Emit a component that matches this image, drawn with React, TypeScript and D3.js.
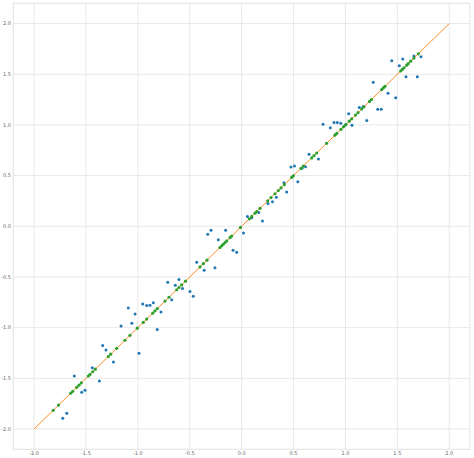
import React from "react";
import * as d3 from "d3";

const W = 474;
const H = 458;

const tickValues = [-2.0, -1.5, -1.0, -0.5, 0.0, 0.5, 1.0, 1.5, 2.0];
const tickLabels = ["-2.0", "-1.5", "-1.0", "-0.5", "0.0", "0.5", "1.0", "1.5", "2.0"];

const lineX = [-2.0, 2.0];
const lineY = [-2.0, 2.0];

const blueX = [
  -1.723, -1.685, -1.612, -1.541, -1.509, -1.439, -1.371, -1.339, -1.307, -1.235,
  -1.162, -1.092, -1.058, -1.027, -0.989, -0.953, -0.915, -0.883, -0.851, -0.813,
  -0.777, -0.712, -0.674, -0.639, -0.604, -0.570, -0.498, -0.466, -0.433, -0.361,
  -0.327, -0.295, -0.257, -0.225, -0.154, -0.083, -0.048, 0.018, 0.056, 0.097,
  0.165, 0.201, 0.254, 0.297, 0.334, 0.408, 0.434, 0.475, 0.509, 0.541,
  0.581, 0.615, 0.649, 0.740, 0.784, 0.854, 0.890, 0.921, 0.955, 0.996,
  1.031, 1.063, 1.133, 1.169, 1.205, 1.268, 1.311, 1.345, 1.410, 1.484,
  1.446, 1.519, 1.552, 1.583, 1.660, 1.692, 1.728,
];
const blueY = [
  -1.894, -1.845, -1.477, -1.638, -1.618, -1.395, -1.526, -1.176, -1.220, -1.339,
  -0.984, -0.806, -0.957, -0.865, -1.252, -0.767, -0.781, -0.779, -0.754, -1.018,
  -0.845, -0.551, -0.724, -0.582, -0.525, -0.614, -0.643, -0.690, -0.354, -0.433,
  -0.079, -0.038, -0.409, -0.133, -0.039, -0.236, -0.257, -0.066, 0.097, 0.085,
  0.136, 0.052, 0.225, 0.243, 0.286, 0.430, 0.338, 0.585, 0.595, 0.440,
  0.572, 0.588, 0.711, 0.664, 1.006, 0.973, 1.024, 1.024, 1.016, 0.996,
  1.110, 0.996, 1.172, 1.180, 1.044, 1.422, 1.154, 1.154, 1.312, 1.269,
  1.634, 1.584, 1.651, 1.476, 1.680, 1.476, 1.673,
];

const greenX = [
  -1.815, -1.764, -1.647, -1.628, -1.589, -1.567, -1.545, -1.477, -1.461, -1.435,
  -1.410, -1.285, -1.262, -1.204, -1.124, -1.076, -1.005, -0.948, -0.915, -0.857,
  -0.835, -0.813, -0.738, -0.700, -0.626, -0.604, -0.578, -0.541, -0.401, -0.369,
  -0.334, -0.209, -0.192, -0.177, -0.160, -0.144, -0.112, -0.096, -0.011, 0.074,
  0.097, 0.129, 0.145, 0.177, 0.251, 0.283, 0.321, 0.353, 0.379, 0.411,
  0.482, 0.498, 0.572, 0.594, 0.675, 0.697, 0.723, 0.819, 0.899, 0.916,
  0.957, 0.981, 1.005, 1.037, 1.060, 1.097, 1.121, 1.157, 1.179, 1.232,
  1.251, 1.349, 1.365, 1.381, 1.532, 1.548, 1.564, 1.590, 1.605, 1.629,
  1.660, 1.702,
];
const greenY = [
  -1.815, -1.764, -1.647, -1.628, -1.589, -1.567, -1.545, -1.477, -1.461, -1.435,
  -1.410, -1.285, -1.262, -1.204, -1.124, -1.076, -1.005, -0.948, -0.915, -0.857,
  -0.835, -0.813, -0.738, -0.700, -0.626, -0.604, -0.578, -0.541, -0.401, -0.369,
  -0.334, -0.209, -0.192, -0.177, -0.160, -0.144, -0.112, -0.096, -0.011, 0.074,
  0.097, 0.129, 0.145, 0.177, 0.251, 0.283, 0.321, 0.353, 0.379, 0.411,
  0.482, 0.498, 0.572, 0.594, 0.675, 0.697, 0.723, 0.819, 0.899, 0.916,
  0.957, 0.981, 1.005, 1.037, 1.060, 1.097, 1.121, 1.157, 1.179, 1.232,
  1.251, 1.349, 1.365, 1.381, 1.532, 1.548, 1.564, 1.590, 1.605, 1.629,
  1.660, 1.702,
];

const plot = { left: 13.3, right: 470, top: 3.3, bottom: 449.3 };

export default function App() {
  const x = d3.scaleLinear().domain([-2.2, 2.2]).range([plot.left, plot.right]);
  const y = d3.scaleLinear().domain([-2.2, 2.2]).range([plot.bottom, plot.top]);
  const line = d3
    .line<number>()
    .x((_, i) => x(lineX[i]))
    .y((_, i) => y(lineY[i]));
  const font = "'DejaVu Sans', sans-serif";
  return (
    <svg
      width={W}
      height={H}
      style={{ position: "absolute", left: 0, top: 0, background: "#fff" }}
    >
      <rect x={0} y={0} width={W} height={H} fill="#fff" />
      {tickValues.map((t) => (
        <g key={"g" + t}>
          <line x1={x(t)} x2={x(t)} y1={plot.top} y2={plot.bottom} stroke="#e8e8e8" strokeWidth={1} />
          <line x1={plot.left} x2={plot.right} y1={y(t)} y2={y(t)} stroke="#e8e8e8" strokeWidth={1} />
        </g>
      ))}
      <rect
        x={plot.left}
        y={plot.top}
        width={plot.right - plot.left}
        height={plot.bottom - plot.top}
        fill="none"
        stroke="#e2e2e2"
        strokeWidth={1}
      />
      {tickValues.map((t, i) => (
        <text
          key={"xl" + t}
          x={x(t)}
          y={455}
          fontSize={5}
          fontFamily={font}
          fill="#666"
          textAnchor="middle"
        >
          {tickLabels[i]}
        </text>
      ))}
      {tickValues.map((t, i) => (
        <text
          key={"yl" + t}
          x={11}
          y={y(t) + 1.8}
          fontSize={5}
          fontFamily={font}
          fill="#666"
          textAnchor="end"
        >
          {tickLabels[i]}
        </text>
      ))}
      {blueX.map((v, i) => (
        <circle key={"b" + i} cx={x(v)} cy={y(blueY[i])} r={1.5} fill="#1f77b4" />
      ))}
      <path d={line(lineX) || ""} fill="none" stroke="#ff7f0e" strokeWidth={0.9} />
      {greenX.map((v, i) => (
        <circle key={"gr" + i} cx={x(v)} cy={y(greenY[i])} r={1.6} fill="#2ca02c" />
      ))}
    </svg>
  );
}
